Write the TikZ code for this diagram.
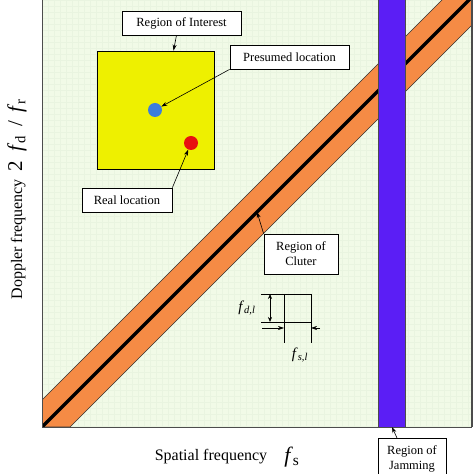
\documentclass[tikz,border=0pt]{standalone}
\usepackage{fontspec}
\setmainfont{Liberation Serif}
\usetikzlibrary{positioning,arrows.meta}
\definecolor{plotbg}{HTML}{F1FAE7}
\definecolor{gridcol}{HTML}{E9F4E0}
\definecolor{bandorange}{HTML}{F58B45}
\definecolor{jamblue}{HTML}{5B1EF5}
\definecolor{roiyellow}{HTML}{EEF000}
\definecolor{dotblue}{HTML}{3C7DDC}
\definecolor{dotred}{HTML}{E81010}
\begin{document}
\begin{tikzpicture}[x=1pt,y=1pt]
  \tikzset{labelbox/.style={rectangle, draw, thick, fill=white, align=center, inner sep=0pt, font=\fontsize{12.5}{15}\selectfont}}
  \tikzset{pointer/.style={-{Stealth[length=6pt,width=4pt]}, semithick}}
  \tikzset{dot/.style={circle, inner sep=0pt, minimum size=14pt}}
  \clip (0,0) rectangle (474,474);

  % plot area
  \fill[plotbg] (42,47) rectangle (472,480);
  \draw[gridcol, step=6] (42,47) grid (472,480);
  \coordinate (origin) at (42,47);
  \coordinate (diagtop) at (480,485);

  % clutter ridge
  \begin{scope}
    \clip (42,47) rectangle (472,480);
    \filldraw[fill=bandorange, draw=black!80, line width=0.6pt]
      (42,74) -- (origin) -- (70,47) -- (510,487) -- (455,487) -- cycle;
    \draw[line width=3.5pt] (origin) -- (diagtop);
  \end{scope}

  % jamming
  \filldraw[fill=jamblue, draw=black!70, line width=0.6pt] (378,47) rectangle (405,480);
  \coordinate (jamfoot) at (392,47);

  % axes
  \draw[black!70, thick] (42,480) -- (origin) -- (472,47);
  \draw[black!70, line width=1.5pt] (472,47) -- (472,480);

  % region of interest
  \node[draw, thick, fill=roiyellow, minimum width=117pt, minimum height=118pt] (roisq) at (155.5,364) {};
  \node[dot, fill=dotblue] (presdot) at (155,364) {};
  \node[dot, fill=dotred] (realdot) at (191,331) {};

  % labels
  \node[labelbox, minimum width=119pt, minimum height=24pt] (roi) at (181.5,451) {Region of Interest};
  \node[labelbox, minimum width=119pt, minimum height=24pt] (pres) at (289.5,417) {Presumed location};
  \node[labelbox, minimum width=90pt, minimum height=24pt] (real) at (127,274) {Real location};
  \node[labelbox, minimum width=74pt, minimum height=40pt] (clut) at (301,220) {Region of\\Cluter};
  \node[labelbox, minimum width=68pt, minimum height=42pt, anchor=north] (jam) at (412,36) {Region of\\Jamming};
  \coordinate (clhit) at (257,262);

  \draw[pointer] ([xshift=-5pt]roi.south) -- ([xshift=18pt]roisq.north);
  \draw[pointer] (pres.south west) -- (presdot);
  \draw[pointer] (real.north east) -- (realdot);
  \draw[pointer] (clut.north west) -- (clhit);
  \draw[pointer] ([xshift=-15pt]jam.north) -- (jamfoot);

  % resolution cell
  \draw[thick] (261,180) -- (311,180) (261,152) -- (311,152)
    (284,180) -- (284,131) (311,180) -- (311,131);
  \coordinate (dtop) at (270,180);
  \coordinate (dbot) at (270,152);
  \coordinate (sleft) at (284,146);
  \coordinate (sright) at (311,146);
  \draw[{Stealth[length=5pt,width=4pt]}-{Stealth[length=5pt,width=4pt]}, semithick] (dtop) -- (dbot);
  \draw[pointer] ([xshift=-22pt]sleft) -- (sleft);
  \draw[pointer] ([xshift=9pt]sright) -- (sright);
  \node[anchor=east, font=\fontsize{15}{15}\selectfont] (fdl) at (259,166) {\textit{f}\textsubscript{\textit{d,l}}};
  \node[font=\fontsize{15}{15}\selectfont] (fsl) at (300,119) {\textit{f}\textsubscript{\textit{s,l}}};

  % axis titles
  \node[font=\fontsize{16}{16}\selectfont] (xlab) at (211,17) {Spatial frequency};
  \node[right=10pt of xlab.east, anchor=west, font=\fontsize{22}{22}\selectfont] (xsym) {\textit{f}\textsubscript{s}};
  \node[rotate=90, anchor=west, font=\fontsize{16}{16}\selectfont] (ylab) at (17,171)
    {Doppler frequency\enspace {\fontsize{21}{21}\selectfont 2\, \textit{f}\textsubscript{d}\, /\, \textit{f}\textsubscript{r}}};
\end{tikzpicture}
\end{document}
